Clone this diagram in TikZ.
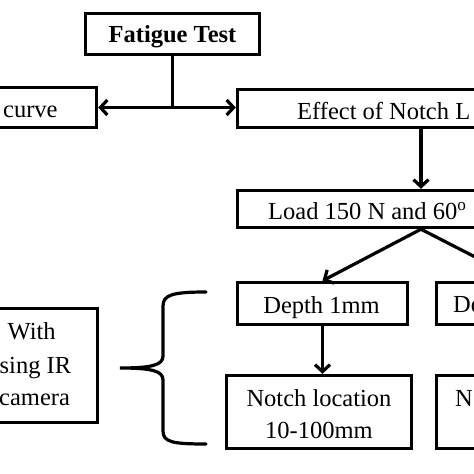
\documentclass[tikz,border=0pt]{standalone}
\usepackage{fontspec}
\setmainfont{Liberation Serif}
\usetikzlibrary{arrows.meta}
\tikzset{
  box/.style={draw, line width=3.4pt, inner sep=0pt},
  txt/.style={inner sep=0pt, font=\fontsize{24.5}{32}\selectfont},
  conn/.style={line width=3.2pt},
  arr/.style={conn, -{Straight Barb[length=7pt,width=15pt]}},
  brace/.style={line width=3.2pt, line cap=round}
}
\begin{document}
\begin{tikzpicture}[x=1pt,y=-1pt]
\useasboundingbox (0,0) rectangle (474,474);
% boxes
\node[box, minimum width=174pt, minimum height=41pt] (fatigue) at (172.5,34) {};
\node[box, minimum width=196.5pt, minimum height=40pt] (curve) at (-1.75,107.5) {};
\node[box, minimum width=367pt, minimum height=38pt] (effect) at (421,108.5) {};
\node[box, minimum width=367pt, minimum height=37pt] (load) at (421,209) {};
\node[box, minimum width=170pt, minimum height=42pt] (depthA) at (322.5,303.5) {};
\node[box, minimum width=170pt, minimum height=42pt] (depthB) at (521.5,303.5) {};
\node[box, minimum width=185pt, minimum height=73pt] (notchA) at (319,412) {};
\node[box, minimum width=185pt, minimum height=73pt] (notchB) at (529,412) {};
\node[box, minimum width=197.5pt, minimum height=114pt] (ir) at (-1.25,365.5) {};
% texts
\node[txt, anchor=base, font=\fontsize{24.5}{32}\selectfont\bfseries] (tfat) at (172.5,42) {Fatigue Test};
\node[txt, anchor=base west] (tcurve) at (3,117.5) {curve};
\node[txt, anchor=base west] (teffect) at (297,119.3) {Effect of Notch L};
\node[txt, anchor=base west] (tload) at (268,219.5) {Load 150 N and 60\textsuperscript{o}};
\node[txt, anchor=base] (tdepthA) at (321.5,313) {Depth 1mm};
\node[txt, anchor=base west] (tdepthB) at (453,312) {De};
\node[txt, anchor=base] (tnotchA1) at (319,406) {Notch location};
\node[txt, anchor=base] (tnotchA2) at (319,438) {10-100mm};
\node[txt, anchor=base west] (tnotchB) at (455,406) {N};
\node[txt, anchor=base] (tir1) at (31.7,339) {With};
\node[txt, anchor=base west] (tir2) at (-0.5,373) {sing IR};
\node[txt, anchor=base west] (tir3) at (-1,405) {camera};
% connectors
\coordinate (j) at (fatigue.south |- curve.east);
\draw[conn] (fatigue.south) -- (j);
\draw[arr] (j) -- (curve.east);
\draw[arr] (j) -- (effect.west |- j);
\draw[arr] (effect.south) -- (load.north);
\draw[arr] (load.south) -- (depthA.north);
\draw[arr] (load.south) -- (depthB.north);
\draw[arr] (depthA.south) -- (depthA.south |- notchA.north);
% brace
\coordinate (bt) at (206,292);
\coordinate (bm) at (120,368);
\coordinate (bb) at (206,444);
\draw[brace] (bt) .. controls (172,292) and (163,295) .. (163,306)
  -- (163,356) .. controls (163,365) and (152,368) .. (bm)
  .. controls (152,368) and (163,371) .. (163,380)
  -- (163,431) .. controls (163,442) and (172,444) .. (bb);
\end{tikzpicture}
\end{document}
